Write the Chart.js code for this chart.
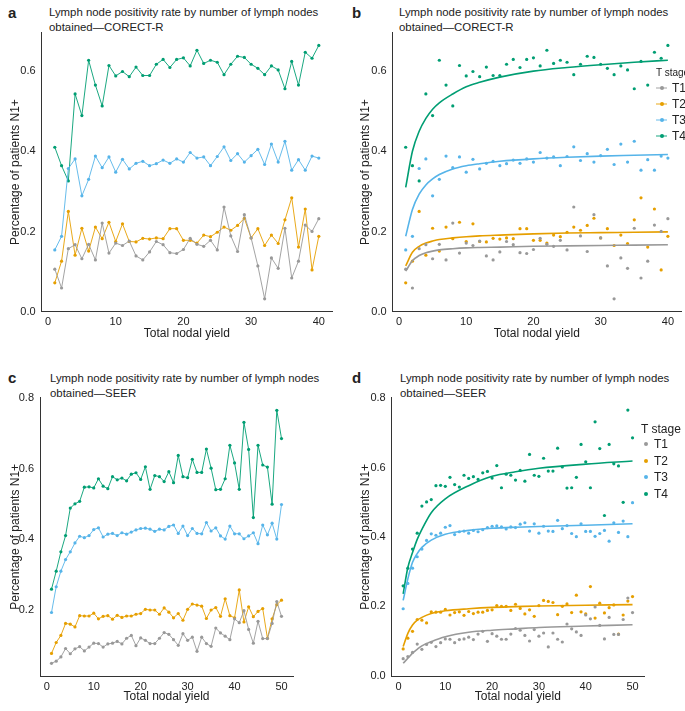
<!DOCTYPE html>
<html>
<head>
<meta charset="utf-8">
<title>Lymph node positivity rate</title>
<script src="https://cdn.jsdelivr.net/npm/chart.js@4.4.0/dist/chart.umd.min.js"></script>
<style>
    body {
        margin: 0;
        width: 685px;
        height: 711px;
        position: relative;
        overflow: hidden;
        background: #fff;
        color: #222;
        font-family: "Liberation Sans", Arial, sans-serif;
    }
    .panel-letter { position: absolute; font-weight: bold; font-size: 15px; line-height: 18px; }
    .panel-title { position: absolute; font-size: 11.4px; line-height: 14.5px; white-space: nowrap; }
    .chart-box { position: absolute; }
    .legend { position: absolute; white-space: nowrap; }
    .legend .row { display: flex; align-items: center; }
    .legend .key { position: relative; display: inline-block; }
    .legend .key i { position: absolute; left: 50%; top: 50%; border-radius: 50%; transform: translate(-50%, -50%); }
    .legend .key b { position: absolute; left: 0; right: 0; top: 50%; height: 2px; margin-top: -1px; opacity: 0.45; }
</style>
</head>
<body>

<div class="panel-letter" style="left:8px;top:4px">a</div>
<div class="panel-title" style="left:49px;top:5px">Lymph node positivity rate by number of lymph nodes<br>obtained—CORECT-R</div>
<div class="chart-box" style="left:0;top:20px;width:340px;height:330px"><canvas id="chart-a"></canvas></div>

<div class="panel-letter" style="left:352px;top:4px">b</div>
<div class="panel-title" style="left:399px;top:5px">Lymph node positivity rate by number of lymph nodes<br>obtained—CORECT-R</div>
<div class="chart-box" style="left:350px;top:20px;width:335px;height:330px"><canvas id="chart-b"></canvas></div>
<div class="legend" id="legend-b" style="left:656px;top:66px"></div>

<div class="panel-letter" style="left:8px;top:369px">c</div>
<div class="panel-title" style="left:50px;top:371px">Lymph node positivity rate by number of lymph nodes<br>obtained—SEER</div>
<div class="chart-box" style="left:0;top:385px;width:300px;height:326px"><canvas id="chart-c"></canvas></div>

<div class="panel-letter" style="left:352px;top:369px">d</div>
<div class="panel-title" style="left:400px;top:371px">Lymph node positivity rate by number of lymph nodes<br>obtained—SEER</div>
<div class="chart-box" style="left:350px;top:385px;width:300px;height:326px"><canvas id="chart-d"></canvas></div>
<div class="legend" id="legend-d" style="left:641px;top:422px"></div>

<script>
/**
 * Data.
 */
const STAGES = ['T1', 'T2', 'T3', 'T4'];
const STAGE_COLORS = ['#999999', '#E69F00', '#56B4E9', '#009E73'];

const NODES_CORECT = [1, 2, 3, 4, 5, 6, 7, 8, 9, 10, 11, 12, 13, 14, 15, 16, 17, 18, 19, 20,
    21, 22, 23, 24, 25, 26, 27, 28, 29, 30, 31, 32, 33, 34, 35, 36, 37, 38, 39, 40];
const CORECT_T1 = [0.106, 0.059, 0.157, 0.167, 0.132, 0.168, 0.129, 0.221, 0.146, 0.171,
    0.165, 0.176, 0.139, 0.129, 0.149, 0.175, 0.167, 0.147, 0.145, 0.155,
    0.183, 0.168, 0.163, 0.178, 0.154, 0.261, 0.189, 0.150, 0.242, 0.184,
    0.114, 0.032, 0.134, 0.108, 0.208, 0.084, 0.126, 0.216, 0.200, 0.232];
const CORECT_T2 = [0.072, 0.126, 0.250, 0.141, 0.208, 0.151, 0.211, 0.182, 0.223, 0.175,
    0.219, 0.175, 0.174, 0.183, 0.181, 0.184, 0.182, 0.207, 0.207, 0.178,
    0.178, 0.171, 0.191, 0.187, 0.198, 0.211, 0.203, 0.215, 0.233, 0.184,
    0.207, 0.165, 0.191, 0.170, 0.229, 0.284, 0.161, 0.256, 0.104, 0.188];
const CORECT_T3 = [0.154, 0.188, 0.357, 0.381, 0.289, 0.330, 0.388, 0.359, 0.386, 0.348,
    0.380, 0.356, 0.370, 0.375, 0.364, 0.369, 0.378, 0.370, 0.381, 0.373,
    0.397, 0.383, 0.386, 0.364, 0.387, 0.411, 0.377, 0.394, 0.373, 0.389,
    0.405, 0.367, 0.418, 0.373, 0.425, 0.353, 0.379, 0.353, 0.388, 0.383];
const CORECT_T4 = [0.410, 0.364, 0.326, 0.543, 0.489, 0.627, 0.565, 0.513, 0.614, 0.588,
    0.599, 0.586, 0.610, 0.589, 0.589, 0.617, 0.629, 0.609, 0.629, 0.633,
    0.613, 0.652, 0.619, 0.627, 0.622, 0.591, 0.617, 0.637, 0.634, 0.617,
    0.607, 0.591, 0.613, 0.603, 0.556, 0.624, 0.565, 0.647, 0.632, 0.664];

/** Fitted curves of panel b, read at these node counts. */
const FIT_X_CORECT = [1, 2, 3, 4, 5, 6, 8, 10, 12, 15, 20, 25, 30, 35, 40];
const FIT_CORECT_T1 = [0.101, 0.127, 0.140, 0.147, 0.151, 0.154, 0.157, 0.159, 0.160, 0.161, 0.163, 0.164, 0.165, 0.166, 0.167];
const FIT_CORECT_T2 = [0.114, 0.148, 0.163, 0.171, 0.176, 0.180, 0.184, 0.187, 0.189, 0.191, 0.194, 0.196, 0.197, 0.198, 0.199];
const FIT_CORECT_T3 = [0.188, 0.255, 0.293, 0.316, 0.331, 0.342, 0.356, 0.364, 0.369, 0.375, 0.381, 0.385, 0.388, 0.390, 0.392];
const FIT_CORECT_T4 = [0.310, 0.400, 0.450, 0.482, 0.505, 0.521, 0.543, 0.561, 0.572, 0.585, 0.600, 0.609, 0.616, 0.622, 0.627];

const NODES_SEER = [1, 2, 3, 4, 5, 6, 7, 8, 9, 10, 11, 12, 13, 14, 15, 16, 17, 18, 19, 20,
    21, 22, 23, 24, 25, 26, 27, 28, 29, 30, 31, 32, 33, 34, 35, 36, 37, 38, 39, 40,
    41, 42, 43, 44, 45, 46, 47, 48, 49, 50];
const SEER_T1 = [0.049, 0.055, 0.067, 0.091, 0.076, 0.090, 0.096, 0.084, 0.095, 0.106,
    0.105, 0.095, 0.104, 0.106, 0.111, 0.104, 0.120, 0.128, 0.099, 0.121,
    0.114, 0.105, 0.105, 0.120, 0.136, 0.131, 0.116, 0.100, 0.133, 0.114,
    0.123, 0.083, 0.123, 0.105, 0.097, 0.149, 0.135, 0.126, 0.116, 0.175,
    0.164, 0.198, 0.145, 0.106, 0.168, 0.119, 0.119, 0.162, 0.224, 0.182];
const SEER_T2 = [0.077, 0.108, 0.128, 0.162, 0.160, 0.152, 0.184, 0.183, 0.183, 0.191,
    0.175, 0.182, 0.184, 0.174, 0.185, 0.179, 0.183, 0.183, 0.188, 0.190,
    0.202, 0.200, 0.200, 0.188, 0.206, 0.194, 0.178, 0.190, 0.171, 0.202,
    0.217, 0.214, 0.211, 0.176, 0.200, 0.207, 0.182, 0.232, 0.184, 0.178,
    0.257, 0.166, 0.209, 0.181, 0.196, 0.204, 0.120, 0.175, 0.215, 0.228];
const SEER_T3 = [0.193, 0.266, 0.310, 0.343, 0.365, 0.390, 0.409, 0.405, 0.411, 0.428,
    0.433, 0.407, 0.415, 0.417, 0.411, 0.419, 0.415, 0.421, 0.427, 0.431,
    0.432, 0.429, 0.423, 0.429, 0.427, 0.437, 0.441, 0.417, 0.438, 0.411,
    0.431, 0.417, 0.416, 0.448, 0.424, 0.433, 0.410, 0.401, 0.438, 0.416,
    0.416, 0.402, 0.410, 0.419, 0.388, 0.441, 0.413, 0.446, 0.401, 0.499];
const SEER_T4 = [0.259, 0.310, 0.365, 0.411, 0.489, 0.501, 0.508, 0.548, 0.549, 0.546,
    0.572, 0.551, 0.544, 0.578, 0.569, 0.574, 0.566, 0.585, 0.589, 0.570,
    0.606, 0.542, 0.581, 0.578, 0.564, 0.592, 0.561, 0.638, 0.578, 0.575,
    0.627, 0.590, 0.590, 0.656, 0.602, 0.541, 0.542, 0.572, 0.667, 0.617,
    0.542, 0.732, 0.655, 0.462, 0.667, 0.611, 0.605, 0.500, 0.766, 0.686];

/** Fitted curves of panel d. */
const FIT_X_SEER = [1, 2, 3, 4, 5, 7, 10, 15, 20, 25, 30, 40, 50];
const FIT_SEER_T1 = [0.036, 0.050, 0.065, 0.076, 0.086, 0.098, 0.112, 0.125, 0.131, 0.135, 0.139, 0.143, 0.147];
const FIT_SEER_T2 = [0.084, 0.122, 0.146, 0.160, 0.168, 0.179, 0.187, 0.193, 0.197, 0.199, 0.201, 0.203, 0.205];
const FIT_SEER_T3 = [0.217, 0.279, 0.327, 0.352, 0.370, 0.391, 0.408, 0.419, 0.425, 0.428, 0.430, 0.434, 0.438];
const FIT_SEER_T4 = [0.236, 0.312, 0.355, 0.393, 0.422, 0.470, 0.510, 0.548, 0.575, 0.588, 0.598, 0.610, 0.619];

const TICKS_X_CORECT = [0, 10, 20, 30, 40];
const TICKS_X_SEER = [0, 10, 20, 30, 40, 50];
const TICKS_Y_CORECT = [0, 0.2, 0.4, 0.6];
const TICKS_Y_SEER_C = [0.2, 0.4, 0.6, 0.8];
const TICKS_Y_SEER_D = [0, 0.2, 0.4, 0.6, 0.8];

const FONT = '"Liberation Sans", Arial, sans-serif';
const INK = '#222';

const onDOMLoaded = () => {
    Chart.defaults.font.family = FONT;
    Chart.defaults.color = INK;

    const toPoints = (xs, ys) => xs.map((x, i) => ({x, y: ys[i]}));

    /**
     * Options shared by all four panels; axis sizes are fixed so the plot areas line up with the figure.
     */
    const buildOptions = (p) => ({
        responsive: true,
        maintainAspectRatio: false,
        animation: false,
        layout: {padding: {top: p.padTop, right: p.padRight, left: 0, bottom: 0}},
        plugins: {legend: {display: false}, tooltip: {enabled: false}},
        scales: {
            x: {
                type: 'linear',
                bounds: 'data',
                min: p.xMin,
                max: p.xMax,
                afterBuildTicks: (axis) => { axis.ticks = p.xTicks.map((value) => ({value})); },
                afterFit: (axis) => { axis.height = p.xHeight; },
                grid: {display: false, drawTicks: false},
                border: {display: true, color: '#333', width: 1},
                ticks: {padding: 4, color: INK, font: {size: 11}, callback: (v) => v},
                title: {display: true, text: 'Total nodal yield', color: INK, font: {size: 12}, padding: {top: 0, bottom: p.xTitlePad}}
            },
            y: {
                type: 'linear',
                bounds: 'data',
                min: p.yMin,
                max: p.yMax,
                afterBuildTicks: (axis) => { axis.ticks = p.yTicks.map((value) => ({value})); },
                afterFit: (axis) => { axis.width = p.yWidth; },
                grid: {display: false, drawTicks: false},
                border: {display: true, color: '#333', width: 1},
                ticks: {padding: 6, color: INK, font: {size: 11}, callback: (v) => v.toFixed(1)},
                title: {display: true, text: 'Percentage of patients N1+', color: INK, font: {size: 12}, padding: {top: 8, bottom: 0}}
            }
        }
    });

    /** Connected points, panels a and c. */
    const lineSets = (xs, series) => series.map((ys, i) => ({
        label: STAGES[i],
        data: toPoints(xs, ys),
        showLine: true,
        borderColor: STAGE_COLORS[i],
        backgroundColor: STAGE_COLORS[i],
        borderWidth: 0.9,
        pointRadius: 1.6,
        pointBorderWidth: 0,
        tension: 0
    }));

    /** Scatter points plus fitted curve, panels b and d. */
    const fitSets = (xs, series, fitXs, fits) => {
        const sets = [];
        series.forEach((ys, i) => {
            sets.push({
                label: STAGES[i],
                data: toPoints(xs, ys),
                showLine: false,
                backgroundColor: STAGE_COLORS[i],
                borderColor: STAGE_COLORS[i],
                pointRadius: 1.6,
                pointBorderWidth: 0
            });
            sets.push({
                label: STAGES[i] + ' fit',
                data: toPoints(fitXs, fits[i]),
                showLine: true,
                borderColor: STAGE_COLORS[i],
                borderWidth: 1.6,
                pointRadius: 0,
                cubicInterpolationMode: 'monotone'
            });
        });
        return sets;
    };

    const CORECT_SERIES = [CORECT_T1, CORECT_T2, CORECT_T3, CORECT_T4];
    const CORECT_FITS = [FIT_CORECT_T1, FIT_CORECT_T2, FIT_CORECT_T3, FIT_CORECT_T4];
    const SEER_SERIES = [SEER_T1, SEER_T2, SEER_T3, SEER_T4];
    const SEER_FITS = [FIT_SEER_T1, FIT_SEER_T2, FIT_SEER_T3, FIT_SEER_T4];

    new Chart(document.getElementById('chart-a'), {
        type: 'scatter',
        data: {datasets: lineSets(NODES_CORECT, CORECT_SERIES)},
        options: buildOptions({
            xMin: -0.95, xMax: 41.95, yMin: 0.0004, yMax: 0.696,
            xTicks: TICKS_X_CORECT, yTicks: TICKS_Y_CORECT,
            padTop: 9.5, padRight: 8, yWidth: 41.6, xHeight: 38.5, xTitlePad: 9
        })
    });

    new Chart(document.getElementById('chart-b'), {
        type: 'scatter',
        data: {datasets: fitSets(NODES_CORECT, CORECT_SERIES, FIT_X_CORECT, CORECT_FITS)},
        options: buildOptions({
            xMin: -0.95, xMax: 41.95, yMin: 0.0004, yMax: 0.696,
            xTicks: TICKS_X_CORECT, yTicks: TICKS_Y_CORECT,
            padTop: 9.5, padRight: 3, yWidth: 42.6, xHeight: 38.5, xTitlePad: 9
        })
    });

    new Chart(document.getElementById('chart-c'), {
        type: 'scatter',
        data: {datasets: lineSets(NODES_SEER, SEER_SERIES)},
        options: buildOptions({
            xMin: -1.45, xMax: 52.45, yMin: 0.013, yMax: 0.802,
            xTicks: TICKS_X_SEER, yTicks: TICKS_Y_SEER_C,
            padTop: 11, padRight: 7, yWidth: 40, xHeight: 35, xTitlePad: 7
        })
    });

    new Chart(document.getElementById('chart-d'), {
        type: 'scatter',
        data: {datasets: fitSets(NODES_SEER, SEER_SERIES, FIT_X_SEER, SEER_FITS)},
        options: buildOptions({
            xMin: -1.45, xMax: 52.45, yMin: -0.001, yMax: 0.802,
            xTicks: TICKS_X_SEER, yTicks: TICKS_Y_SEER_D,
            padTop: 9, padRight: 6, yWidth: 41.7, xHeight: 35, xTitlePad: 7
        })
    });

    /**
     * Legends are plain HTML so they can sit inside / beside the plot like in the figure.
     */
    const buildLegend = (el, opts) => {
        let html = `<div style="font-size:${opts.titleSize}px;line-height:${opts.titleHeight}px">T stage</div>`;
        STAGES.forEach((stage, i) => {
            const line = opts.withLine ? `<b style="background:${STAGE_COLORS[i]}"></b>` : '';
            html += `<div class="row" style="height:${opts.rowHeight}px;font-size:${opts.textSize}px">` +
                `<span class="key" style="width:${opts.keyWidth}px;height:${opts.rowHeight}px;margin-right:${opts.gap}px">` +
                line + `<i style="width:4px;height:4px;background:${STAGE_COLORS[i]}"></i></span>${stage}</div>`;
        });
        el.innerHTML = html;
    };

    buildLegend(document.getElementById('legend-b'),
        {titleSize: 10, titleHeight: 14, rowHeight: 16, textSize: 12, keyWidth: 11, gap: 5, withLine: true});
    buildLegend(document.getElementById('legend-d'),
        {titleSize: 12, titleHeight: 14, rowHeight: 16.5, textSize: 12, keyWidth: 9, gap: 4, withLine: false});
};

document.addEventListener('DOMContentLoaded', onDOMLoaded);
</script>
</body>
</html>
